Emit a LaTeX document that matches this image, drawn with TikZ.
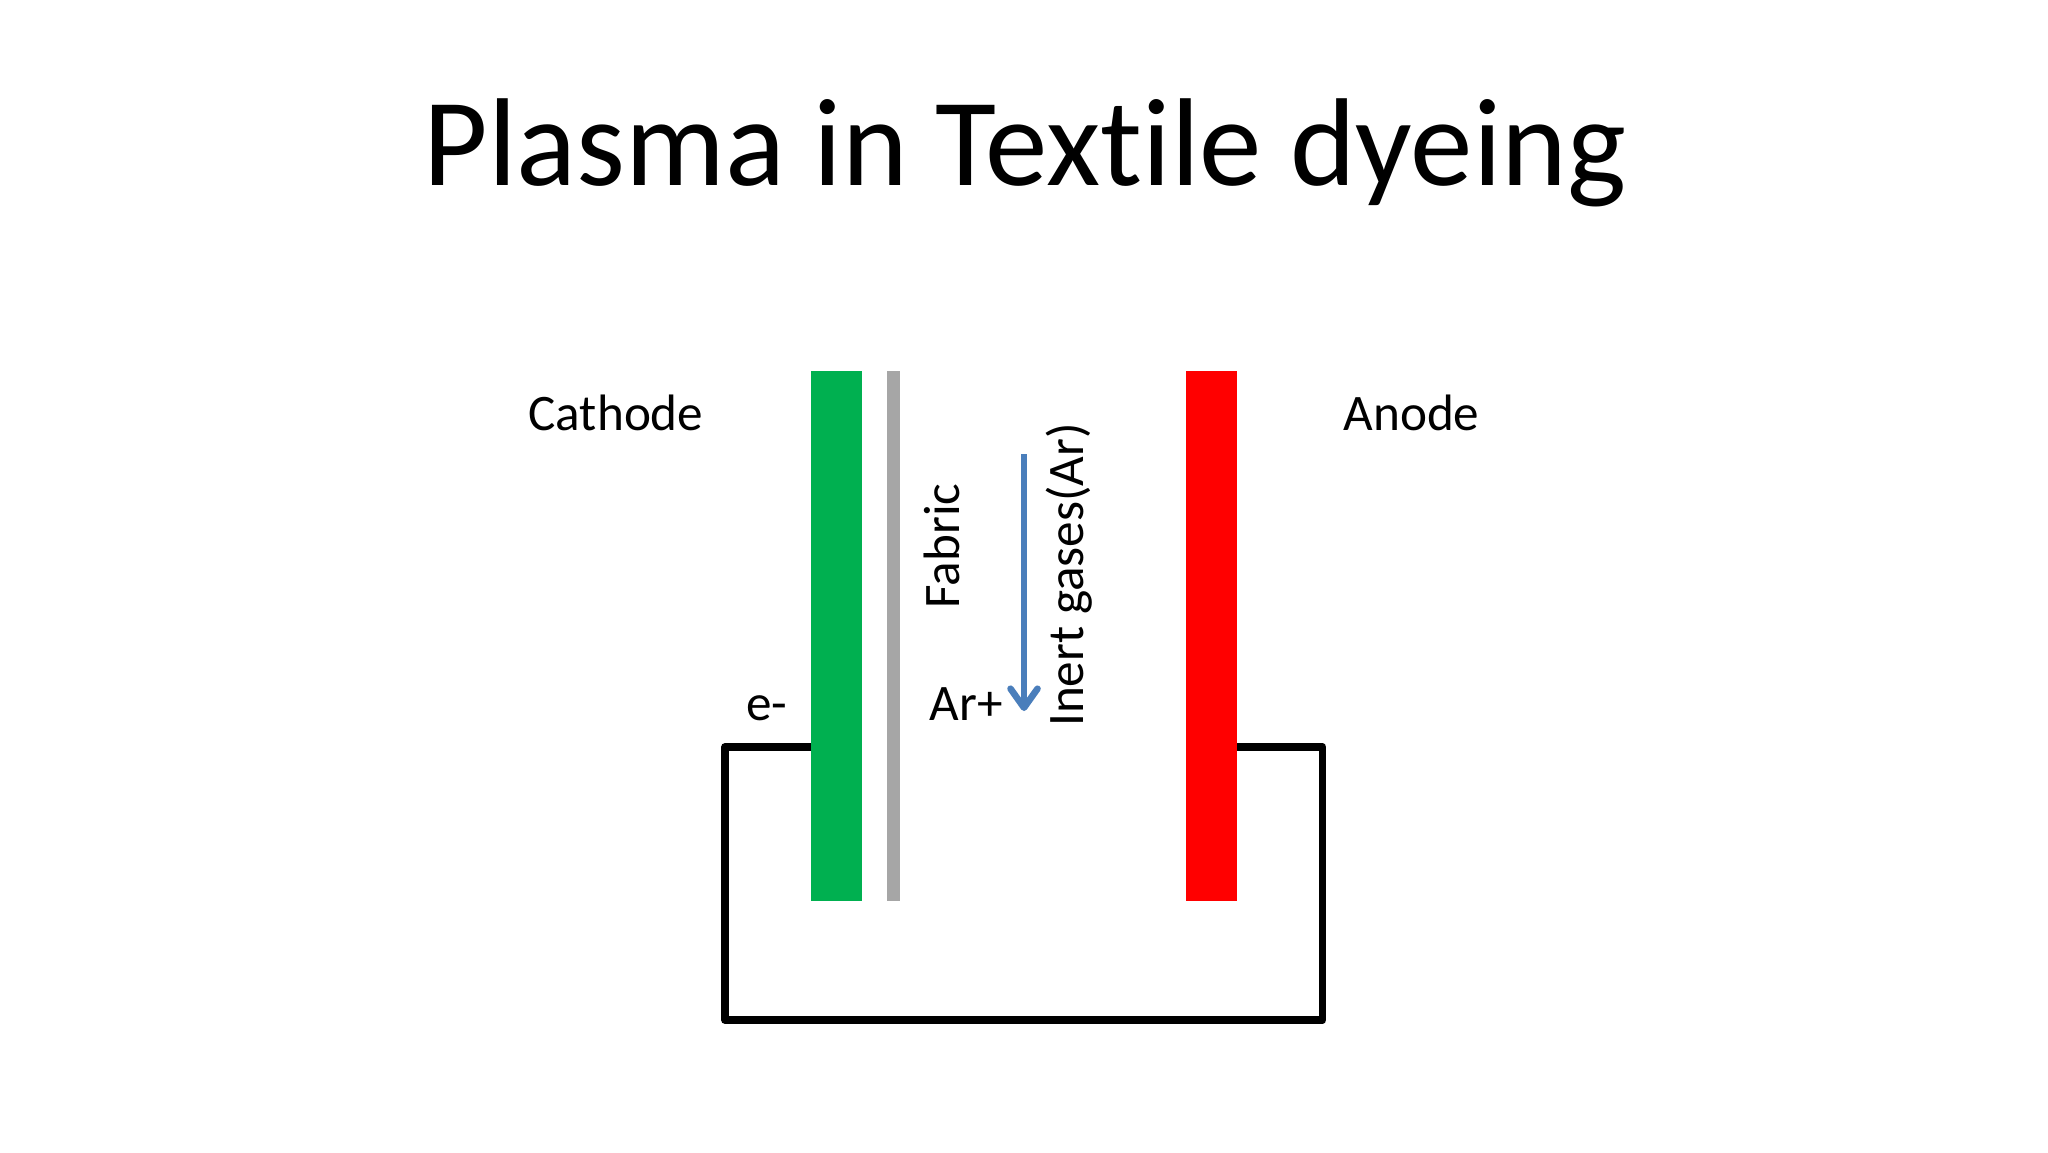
\documentclass[tikz,border=0pt]{standalone}
\usepackage{fontspec}
\setmainfont[Ligatures=CommonOff]{Carlito}
\usetikzlibrary{arrows.meta}
\definecolor{cathodegreen}{HTML}{00B050}
\definecolor{fabricgray}{HTML}{A6A6A6}
\definecolor{arrowblue}{HTML}{4A7EBB}
\tikzset{
  x=0.5pt,y=-0.5pt,
  bar/.style={draw=none,inner sep=0pt,outer sep=0pt,anchor=north west},
  lbl/.style={inner sep=0pt,outer sep=0pt,anchor=base,font=\fontsize{25.6}{30}\selectfont,text=black},
  wire/.style={draw=black,line width=3.8pt,line join=round,line cap=butt},
  flow/.style={draw=arrowblue,line width=3.3pt,-{Straight Barb[length=9.5pt,width=13.5pt,line width=3.3pt,round]}},
}
\begin{document}
\begin{tikzpicture}
\useasboundingbox (0,0) rectangle (2048,1152);
\fill[white] (0,0) rectangle (2048,1152);
\node[inner sep=0pt,anchor=base,font=\fontsize{62.5}{70}\selectfont] (title) at (1025,185) {Plasma in Textile dyeing};
\coordinate (wl) at (725,747);
\coordinate (wbl) at (725,1020);
\coordinate (wbr) at (1322.5,1020);
\coordinate (wr) at (1322.5,747);
\coordinate (flowa) at (1024,454);
\coordinate (flowb) at (1024,711);
\node[bar,fill=cathodegreen,minimum width=25.7pt,minimum height=264.8pt] (cathode) at (811,371) {};
\node[bar,fill=fabricgray,minimum width=6.5pt,minimum height=264.8pt] (fabric) at (887.3,371) {};
\node[bar,fill=red,minimum width=25.7pt,minimum height=264.8pt] (anode) at (1186,371) {};
\draw[wire] (cathode.west |- wl) -- (wl) -- (wbl) -- (wbr) -- (wr) -- (anode.east |- wr);
\draw[flow] (flowa) -- (flowb);
\node[lbl] (cathodelabel) at (616,430) {Cathode};
\node[lbl] (anodelabel) at (1411.5,430) {Anode};
\node[lbl] (electron) at (767,720) {e-};
\node[lbl] (arplus) at (966,720) {Ar+};
\node[lbl,rotate=90] (fabriclabel) at (959,546) {Fabric};
\node[lbl,rotate=90] (inert) at (1083,575) {Inert gases(Ar)};
\end{tikzpicture}
\end{document}
